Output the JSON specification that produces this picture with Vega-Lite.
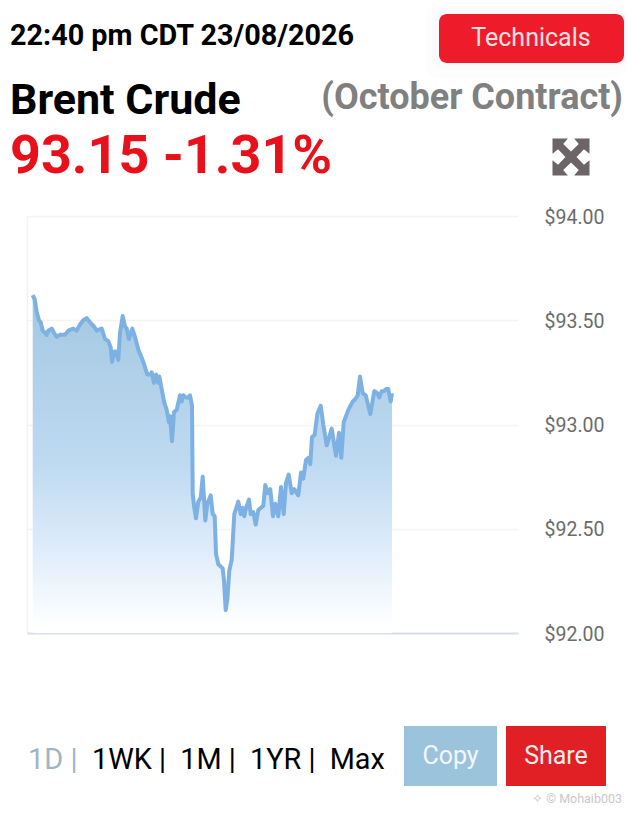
{"$schema":"https://vega.github.io/schema/vega-lite/v6.json","width":491,"height":417,"autosize":{"type":"none"},"padding":{"left":27,"top":216,"right":110,"bottom":182},"background":"#ffffff","view":{"stroke":null},"config":{"text":{"font":"Roboto"}},
"datasets":{"prices":[{"t":5.7,"p":93.62},{"t":7.7,"p":93.6},{"t":9.7,"p":93.54},{"t":12,"p":93.5},{"t":13.7,"p":93.49},{"t":15.7,"p":93.45},{"t":18,"p":93.44},{"t":19.7,"p":93.43},{"t":21.3,"p":93.45},{"t":24.7,"p":93.46},{"t":27,"p":93.44},{"t":29.7,"p":93.42},{"t":33,"p":93.43},{"t":38,"p":93.43},{"t":41.3,"p":93.45},{"t":46.3,"p":93.46},{"t":49.7,"p":93.45},{"t":53,"p":93.48},{"t":56.3,"p":93.5},{"t":59.7,"p":93.51},{"t":63,"p":93.49},{"t":67,"p":93.47},{"t":69.7,"p":93.45},{"t":74.7,"p":93.46},{"t":78,"p":93.41},{"t":81.3,"p":93.4},{"t":83.7,"p":93.37},{"t":85,"p":93.3},{"t":87,"p":93.35},{"t":89,"p":93.35},{"t":91.3,"p":93.31},{"t":93,"p":93.44},{"t":95.7,"p":93.52},{"t":98,"p":93.47},{"t":99.7,"p":93.46},{"t":102,"p":93.41},{"t":105.3,"p":93.46},{"t":108,"p":93.42},{"t":111.3,"p":93.36},{"t":114.7,"p":93.32},{"t":117,"p":93.29},{"t":120.3,"p":93.24},{"t":123.7,"p":93.24},{"t":124.7,"p":93.25},{"t":127,"p":93.2},{"t":129,"p":93.24},{"t":131.3,"p":93.2},{"t":132.3,"p":93.23},{"t":134.7,"p":93.17},{"t":137,"p":93.11},{"t":139.7,"p":93.07},{"t":142,"p":93.01},{"t":143,"p":93.04},{"t":145,"p":92.92},{"t":147,"p":93.06},{"t":149.7,"p":93.07},{"t":153,"p":93.14},{"t":154.7,"p":93.11},{"t":156.3,"p":93.14},{"t":158.7,"p":93.13},{"t":161.3,"p":93.13},{"t":163,"p":93.14},{"t":165,"p":93.09},{"t":165.7,"p":92.67},{"t":167,"p":92.61},{"t":169,"p":92.55},{"t":171.3,"p":92.63},{"t":173.7,"p":92.65},{"t":175.7,"p":92.75},{"t":178.3,"p":92.54},{"t":180.3,"p":92.62},{"t":183.7,"p":92.66},{"t":185.7,"p":92.57},{"t":187.7,"p":92.56},{"t":189,"p":92.38},{"t":191.3,"p":92.33},{"t":195.7,"p":92.31},{"t":197,"p":92.25},{"t":198.7,"p":92.11},{"t":200.3,"p":92.16},{"t":202.3,"p":92.3},{"t":204.7,"p":92.35},{"t":207.3,"p":92.57},{"t":211.3,"p":92.63},{"t":213.7,"p":92.57},{"t":215.7,"p":92.6},{"t":217.3,"p":92.56},{"t":219,"p":92.6},{"t":222,"p":92.64},{"t":223.7,"p":92.57},{"t":226.3,"p":92.58},{"t":228.7,"p":92.52},{"t":231.3,"p":92.59},{"t":236.3,"p":92.61},{"t":238.3,"p":92.71},{"t":240.7,"p":92.67},{"t":243.3,"p":92.69},{"t":246,"p":92.56},{"t":248.3,"p":92.62},{"t":251.3,"p":92.56},{"t":254,"p":92.7},{"t":256.7,"p":92.57},{"t":259,"p":92.72},{"t":261.7,"p":92.76},{"t":264.7,"p":92.67},{"t":267.3,"p":92.69},{"t":271.3,"p":92.66},{"t":274,"p":92.77},{"t":276.3,"p":92.74},{"t":279,"p":92.83},{"t":281.3,"p":92.84},{"t":283.3,"p":92.81},{"t":285,"p":92.94},{"t":287.7,"p":92.95},{"t":290.3,"p":93.05},{"t":293.7,"p":93.09},{"t":296.3,"p":93},{"t":299.7,"p":92.9},{"t":304.7,"p":92.98},{"t":309,"p":92.85},{"t":312,"p":92.96},{"t":314.3,"p":92.84},{"t":316.7,"p":93.01},{"t":321.3,"p":93.07},{"t":325.7,"p":93.11},{"t":328,"p":93.12},{"t":330.7,"p":93.14},{"t":333,"p":93.23},{"t":335.7,"p":93.15},{"t":338.7,"p":93.14},{"t":343.3,"p":93.05},{"t":347.3,"p":93.16},{"t":350.3,"p":93.15},{"t":352.3,"p":93.13},{"t":354.7,"p":93.16},{"t":357,"p":93.16},{"t":359,"p":93.17},{"t":361.3,"p":93.17},{"t":363.7,"p":93.11},{"t":365,"p":93.15}]},
"layer":[
{"data":{"name":"prices"},"mark":{"type":"area","clip":false,"color":{"gradient":"linear","x1":0,"y1":0,"x2":0,"y2":1,"stops":[{"offset":0,"color":"#a3c8e0"},{"offset":0.5,"color":"#bedaf1"},{"offset":0.75,"color":"#deecfa"},{"offset":0.98,"color":"#ffffff"}]}},"encoding":{"x":{"field":"t","type":"quantitative","title":null,"scale":{"domain":[0,491],"nice":false,"zero":false},"axis":{"orient":"bottom","labels":false,"ticks":false,"domain":true,"domainColor":"#d9dfea","domainWidth":2,"grid":true,"values":[0],"gridColor":"#f2f3f5","gridWidth":1.5,"title":null}},"y":{"field":"p","type":"quantitative","title":null,"scale":{"domain":[92,94],"nice":false,"zero":false},"axis":{"orient":"right","values":[92,92.5,93,93.5,94],"format":"$.2f","domain":false,"ticks":false,"labelPadding":26,"labelOffset":1,"labelFont":"Roboto","labelFontSize":19.5,"labelColor":"#6b6b6b","gridColor":"#f3f4f5","gridWidth":1.5,"title":null}},"y2":{"datum":92}}},
{"data":{"name":"prices"},"mark":{"type":"line","color":"#7db1e4","strokeWidth":4,"strokeJoin":"round","interpolate":"linear"},"encoding":{"x":{"field":"t","type":"quantitative"},"y":{"field":"p","type":"quantitative"}}},
{"data":{"values":[{"label":"22:40 pm CDT 23/08/2026"}]},"mark":{"type":"text","align":"left","baseline":"middle","font":"Roboto","fontWeight":"bold","fontSize":28.8,"color":"#000000"},"encoding":{"x":{"datum":-17},"y":{"datum":94.862},"text":{"field":"label"}}},
{"data":{"values":[{"label":"Brent Crude"}]},"mark":{"type":"text","align":"left","baseline":"middle","font":"Roboto","fontWeight":"bold","fontSize":43,"color":"#000000"},"encoding":{"x":{"datum":-17},"y":{"datum":94.551},"text":{"field":"label"}}},
{"data":{"values":[{"label":"(October Contract)"}]},"mark":{"type":"text","align":"right","baseline":"middle","font":"Roboto","fontWeight":"bold","fontSize":36,"color":"#808080"},"encoding":{"x":{"datum":596},"y":{"datum":94.566},"text":{"field":"label"}}},
{"data":{"values":[{"label":"93.15 -1.31%"}]},"mark":{"type":"text","align":"left","baseline":"middle","font":"Roboto","fontWeight":"bold","fontSize":53.9,"color":"#e8101a"},"encoding":{"x":{"datum":-17},"y":{"datum":94.283},"text":{"field":"label"}}},
{"data":{"values":[{"label":"shadow"}]},"mark":{"type":"rect","color":"#000000","opacity":0.008,"cornerRadius":14},"encoding":{"x":{"datum":398},"x2":{"datum":601},"y":{"datum":95.02},"y2":{"datum":94.66}}},
{"data":{"values":[{"label":"shadow"}]},"mark":{"type":"rect","color":"#000000","opacity":0.012,"cornerRadius":12},"encoding":{"x":{"datum":405},"x2":{"datum":600},"y":{"datum":94.99},"y2":{"datum":94.7}}},
{"data":{"values":[{"label":"Technicals"}]},"mark":{"type":"rect","color":"#ee1c2b","cornerRadius":8},"encoding":{"x":{"datum":412},"x2":{"datum":597},"y":{"datum":94.969},"y2":{"datum":94.734}}},
{"data":{"values":[{"label":"Technicals"}]},"mark":{"type":"text","align":"center","baseline":"middle","font":"Roboto","fontSize":25,"color":"#fbe3e3"},"encoding":{"x":{"datum":504},"y":{"datum":94.854},"text":{"field":"label"}}},
{"data":{"values":[{"label":"expand"}]},"mark":{"type":"point","filled":true,"opacity":1,"color":"#6d6468","size":1369,"shape":"M-1,-1 H-0.17 L-0.42,-0.7 L0,-0.3 L0.42,-0.7 L0.17,-1 H1 V-0.17 L0.7,-0.42 L0.3,0 L0.7,0.42 L1,0.17 V1 H0.17 L0.42,0.7 L0,0.3 L-0.42,0.7 L-0.17,1 H-1 V0.17 L-0.7,0.42 L-0.3,0 L-0.7,-0.42 L-1,-0.17 Z"},"encoding":{"x":{"datum":544},"y":{"datum":94.283}}},
{"data":{"values":[{"label":"1D |"}]},"mark":{"type":"text","align":"left","baseline":"middle","font":"Roboto","fontSize":29,"color":"#9fb6c0"},"encoding":{"x":{"datum":1},"y":{"datum":91.391},"text":{"field":"label"}}},
{"data":{"values":[{"label":"1WK |\u00a0 1M |\u00a0 1YR |\u00a0 Max"}]},"mark":{"type":"text","align":"left","baseline":"middle","font":"Roboto","fontSize":28.8,"color":"#000000"},"encoding":{"x":{"datum":65},"y":{"datum":91.391},"text":{"field":"label"}}},
{"data":{"values":[{"label":"Copy"}]},"mark":{"type":"rect","color":"#9cc3dc"},"encoding":{"x":{"datum":377},"x2":{"datum":470},"y":{"datum":91.554},"y2":{"datum":91.266}}},
{"data":{"values":[{"label":"Copy"}]},"mark":{"type":"text","align":"center","baseline":"middle","font":"Roboto","fontSize":25,"color":"#f2f7fb"},"encoding":{"x":{"datum":423.5},"y":{"datum":91.41},"text":{"field":"label"}}},
{"data":{"values":[{"label":"Share"}]},"mark":{"type":"rect","color":"#e02025"},"encoding":{"x":{"datum":479},"x2":{"datum":579},"y":{"datum":91.554},"y2":{"datum":91.266}}},
{"data":{"values":[{"label":"Share"}]},"mark":{"type":"text","align":"center","baseline":"middle","font":"Roboto","fontSize":25,"color":"#fbeeee"},"encoding":{"x":{"datum":529},"y":{"datum":91.41},"text":{"field":"label"}}},
{"data":{"values":[{"label":"✧ © Mohaib003"}]},"mark":{"type":"text","align":"right","baseline":"middle","font":"Roboto","fontSize":12.5,"color":"#c9c9c9"},"encoding":{"x":{"datum":595},"y":{"datum":91.204},"text":{"field":"label"}}}
]}
